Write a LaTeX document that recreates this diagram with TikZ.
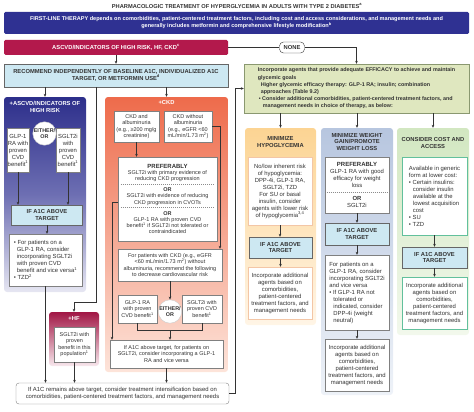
\documentclass[tikz,border=0pt]{standalone}
\usepackage{fontspec}
\setmainfont{Liberation Sans}
\usetikzlibrary{arrows.meta,positioning}

\definecolor{navy}{HTML}{2F3192}
\definecolor{crimson}{HTML}{B3194C}
\definecolor{paleblue}{HTML}{CDE8F2}
\definecolor{ink}{HTML}{333333}
\definecolor{olive}{HTML}{DFE7BF}
\definecolor{olivedark}{HTML}{8A9870}
\definecolor{mint}{HTML}{62C09C}
\definecolor{peach}{HTML}{F3C6A6}

\newcommand{\boxfont}{\fontsize{5.9}{7}\selectfont}
\newcommand{\ckdfont}{\fontsize{5.5}{6.2}\selectfont}
\newcommand{\headfont}{\fontsize{5.8}{6.8}\selectfont\bfseries}
\newcommand{\dashsep}[1]{\\[-0.5pt]\makebox[#1pt]{\color{black!45}\xleaders\hbox to 2pt{\hss\rule[2pt]{1pt}{0.35pt}\hss}\hfill}\\[-1pt]}

\tikzset{
  >={Stealth[length=3pt,width=2.6pt]},
  every node/.style={font=\boxfont, text=ink},
  conn/.style={draw=ink, line width=0.6pt},
  sz/.style 2 args={minimum width=#1, minimum height=#2},
  wbox/.style={draw=black!50, fill=white, align=center, inner sep=1pt},
  a1cbox/.style={draw=black!60, fill=paleblue, align=center, font=\headfont},
  panel/.style={rounded corners=3pt, inner sep=0pt},
  head/.style={font=\headfont, align=center},
  either/.style={circle, fill=white, draw=black!20, minimum size=23, inner sep=0pt, align=center, font=\fontsize{5.4}{5.8}\selectfont\bfseries},
}

\begin{document}
\begin{tikzpicture}[x=1pt,y=-1pt]
\useasboundingbox (0,0) rectangle (474,412);

% top
\node[font=\fontsize{5.7}{6}\selectfont\bfseries] (title) at (237,6) {PHARMACOLOGIC TREATMENT OF HYPERGLYCEMIA IN ADULTS WITH TYPE 2 DIABETES\textsuperscript{a}};
\node[sz={465}{22}, fill=navy, rounded corners=1.5pt, align=center, text=white, font=\fontsize{5.55}{7}\selectfont\bfseries] (firstline) at (236.5,23)
  {FIRST-LINE THERAPY depends on comorbidities, patient-centered treatment factors, including cost and access considerations, and management needs and\\generally includes metformin and comprehensive lifestyle modification\textsuperscript{b}};
\node[sz={224}{15}, fill=crimson, rounded corners=1.5pt, text=white, font=\headfont] (ascvd) at (116,47.5) {ASCVD/INDICATORS OF HIGH RISK, HF, CKD\textsuperscript{c}};
\node[sz={25}{11}, draw=ink, fill=white, rounded corners=4pt, inner sep=0pt, font=\headfont] (none) at (292,47.5) {NONE};
\node[sz={224}{23}, draw=black!60, fill=paleblue, align=center, font=\headfont] (recommend) at (116,75.5)
  {RECOMMEND INDEPENDENTLY OF BASELINE A1C, INDIVIDUALIZED A1C\\TARGET, OR METFORMIN USE\textsuperscript{d}};
\node[sz={225}{49}, draw=olivedark, fill=olive, align=left, font=\fontsize{5.4}{7.2}\selectfont\bfseries] (efficacy) at (356.5,88.5)
  {Incorporate agents that provide adequate EFFICACY to achieve and maintain\\glycemic goals\\
   \hspace*{3pt}Higher glycemic efficacy therapy: GLP-1 RA; insulin; combination\\
   \hspace*{3pt}approaches (Table 9.2)\\
   \hspace*{1pt}\textbullet\ Consider additional comorbidities, patient-centered treatment factors, and\\
   \hspace*{5pt}management needs in choice of therapy, as below:};

% panels
\node[panel, sz={82}{195}, top color=navy!95!black, bottom color=navy!12, middle color=navy!70] (ascvdpanel) at (45,194.5) {};
\node[panel, sz={123}{275}, top color={rgb,255:red,238;green,107;blue,75}, bottom color={rgb,255:red,253;green,228;blue,218}] (ckdpanel) at (166.5,234.5) {};
\node[panel, sz={50}{54}, top color=crimson!90!black, bottom color=crimson!10] (hfpanel) at (74,339) {};
\node[panel, sz={71}{197}, top color={rgb,255:red,252;green,212;blue,147}, bottom color={rgb,255:red,255;green,245;blue,230}] (hypopanel) at (280.5,226.5) {};
\node[panel, sz={72}{267}, top color={rgb,255:red,183;green,198;blue,223}, bottom color={rgb,255:red,238;green,242;blue,248}] (weightpanel) at (357,261.5) {};
\node[panel, sz={72}{207}, top color={rgb,255:red,210;green,231;blue,193}, bottom color={rgb,255:red,242;green,248;blue,236}] (costpanel) at (433,231.5) {};

% +ASCVD
\node[head, text=white] (ascvdtitle) at (45,107) {+ASCVD/INDICATORS OF\\HIGH RISK};
\node[wbox, sz={20}{44}] (ascvdglp) at (18,150) {GLP-1\\RA with\\proven\\CVD\\benefit\textsuperscript{1}};
\node[wbox, sz={24}{44}] (ascvdsglt) at (68,150) {SGLT2i\\with\\proven\\CVD\\benefit\textsuperscript{1}};
\node[either] (ascvdeither) at (44.5,133.5) {EITHER/\\OR};
\node[a1cbox, sz={71}{20}] (ascvda1c) at (47,215) {IF A1C ABOVE\\TARGET};
\node[wbox, sz={73}{52}, align=left] (ascvdnext) at (45.5,260)
  {\textbullet\ For patients on a\\\hspace*{3pt}GLP-1 RA, consider\\\hspace*{3pt}incorporating SGLT2i\\\hspace*{3pt}with proven CVD\\\hspace*{3pt}benefit and vice versa\textsuperscript{1}\\\textbullet\ TZD\textsuperscript{2}};

% +HF
\node[head, text=white] (hftitle) at (74,319) {+HF};
\node[wbox, sz={41}{35}, font=\ckdfont] (hfnext) at (74.5,344.5) {SGLT2i with\\proven\\benefit in this\\population\textsuperscript{1}};

% +CKD
\node[head, text=white] (ckdtitle) at (166.5,103) {+CKD};
\node[wbox, sz={45}{31}, font=\ckdfont] (ckdalb) at (136.5,126.5) {CKD and\\albuminuria\\(e.g., ≥200 mg/g\\creatinine)};
\node[wbox, sz={48}{31}, font=\ckdfont] (ckdnoalb) at (188,126.5) {CKD without\\albuminuria\\(e.g., eGFR <60\\mL/min/1.73 m\textsuperscript{2})};
\node[wbox, sz={99}{84}, font=\ckdfont] (ckdpref) at (167.5,199)
  {{\fontsize{6}{6.2}\selectfont\bfseries PREFERABLY}\\SGLT2i with primary evidence of\\reducing CKD progression\dashsep{95}\textbf{OR}\\SGLT2i with evidence of reducing\\CKD progression in CVOTs\dashsep{95}\textbf{OR}\\GLP-1 RA with proven CVD\\benefit\textsuperscript{1} if SGLT2i not tolerated or\\contraindicated};
\node[wbox, sz={104}{32}, font=\ckdfont] (ckdcvd) at (170,265) {For patients with CKD (e.g., eGFR\\<60 mL/min/1.73 m\textsuperscript{2}) without\\albuminuria, recommend the following\\to decrease cardiovascular risk};
\node[wbox, sz={39}{28}, font=\ckdfont] (ckdglp) at (137.5,309) {GLP-1 RA\\with proven\\CVD benefit\textsuperscript{1}};
\node[wbox, sz={40}{28}, font=\ckdfont] (ckdsglt) at (202,309) {SGLT2i with\\proven CVD\\benefit\textsuperscript{1}};
\node[either] (ckdeither) at (170,311.5) {EITHER/\\OR};
\node[wbox, sz={113}{28}, font=\ckdfont] (ckdlast) at (166.5,354) {If A1C above target, for patients on\\SGLT2i, consider incorporating a GLP-1\\RA and vice versa};

\node[wbox, sz={213}{21}, rounded corners=3pt] (final) at (122.5,393.5)
  {If A1C remains above target, consider treatment intensification based on\\comorbidities, patient-centered treatment factors, and management needs};

% minimize hypoglycemia
\node[head] (hypotitle) at (280.5,142) {MINIMIZE\\HYPOGLYCEMIA};
\node[wbox, sz={64}{68}, draw=peach] (hypofirst) at (280,191)
  {No/low inherent risk\\of hypoglycemia:\\DPP-4i, GLP-1 RA,\\SGLT2i, TZD\\For SU or basal\\insulin, consider\\agents with lower risk\\of hypoglycemia\textsuperscript{3,4}};
\node[a1cbox, sz={63}{21}] (hypoa1c) at (280.5,247.5) {IF A1C ABOVE\\TARGET};
\node[wbox, sz={64}{52}, draw=peach] (hypolast) at (280,293)
  {Incorporate additional\\agents based on\\comorbidities,\\patient-centered\\treatment factors, and\\management needs};

% minimize weight gain
\node[head] (weighttitle) at (357,142) {MINIMIZE WEIGHT\\GAIN/PROMOTE\\WEIGHT LOSS};
\node[wbox, sz={64}{56}] (weightpref) at (357,185)
  {{\fontsize{6}{7}\selectfont\bfseries PREFERABLY}\\GLP-1 RA with good\\efficacy for weight\\loss\dashsep{62}\textbf{OR}\\SGLT2i};
\node[a1cbox, sz={64}{22}] (weighta1c) at (357,234) {IF A1C ABOVE\\TARGET};
\node[wbox, sz={64}{75}, align=left] (weightnext) at (357,292.5)
  {For patients on a\\GLP-1 RA, consider\\incorporating SGLT2i\\and vice versa\\\textbullet\ If GLP-1 RA not\\\hspace*{4pt}tolerated or\\\hspace*{4pt}indicated, consider\\\hspace*{4pt}DPP-4i (weight\\\hspace*{4pt}neutral)};
\node[wbox, sz={64}{52}] (weightlast) at (357,365)
  {Incorporate additional\\agents based on\\comorbidities,\\patient-centered\\treatment factors, and\\management needs};

% cost and access
\node[head] (costtitle) at (433,143) {CONSIDER COST AND\\ACCESS};
\node[wbox, sz={65}{78}, draw=mint, align=left] (costfirst) at (434.5,196)
  {Available in generic\\form at lower cost:\\\textbullet\ Certain insulins:\\\hspace*{4pt}consider insulin\\\hspace*{4pt}available at the\\\hspace*{4pt}lowest acquisition\\\hspace*{4pt}cost\\\textbullet\ SU\\\textbullet\ TZD};
\node[a1cbox, sz={65}{21}] (costa1c) at (434.5,257.5) {IF A1C ABOVE\\TARGET};
\node[wbox, sz={65}{52}, draw=mint] (costlast) at (434.5,303)
  {Incorporate additional\\agents based on\\comorbidities,\\patient-centered\\treatment factors, and\\management needs};

% connectors
\draw[conn] (ascvd.east) -- (none.west);
\draw[conn,->] (none.east) -| (efficacy.north);
\draw[conn,->] (ascvd.south) -- (recommend.north);
\draw[conn,->] (recommend.south -| ascvdpanel.north) -- (ascvdpanel.north);
\draw[conn,->] (recommend.south -| ckdpanel.north) -- (ckdpanel.north);
\coordinate (hfturn) at (96,302);
\draw[conn,->] (recommend.south -| hfturn) -- (hfturn) -| (hfpanel.north);

\draw[conn,->] (ascvdglp.south) -- (ascvdglp.south |- ascvda1c.north);
\draw[conn,->] (ascvdsglt.south) -- (ascvdsglt.south |- ascvda1c.north);
\draw[conn,->] (ascvda1c.south) -- (ascvda1c.south |- ascvdnext.north);
\draw[conn,->] (ascvdnext.south) -- (ascvdnext.south |- final.north);
\draw[conn,->] (hfnext.south) -- (hfnext.south |- final.north);

\draw[conn,->] (ckdalb.south) -- (ckdalb.south |- ckdpref.north);
\coordinate (ckdright) at (220,0);
\draw[conn,->] (ckdnoalb.east) -| (ckdright |- ckdcvd.north);
\coordinate (ckdleft) at (112,202);
\draw[conn,->] (ckdpref.west |- ckdleft) -- (ckdleft) -- (ckdleft |- ckdlast.north);
\draw[conn,->] (ckdcvd.south) -- (ckdeither.north);
\draw[conn] (ckdglp.south) -- ++(0,7) -| (ckdsglt.south);
\coordinate (ckdjoin) at (170,330);
\draw[conn,->] (ckdjoin) -- (ckdjoin |- ckdlast.north);
\draw[conn,->] (ckdlast.south) -- (ckdlast.south |- final.north);

\coordinate (loopx) at (235,0);
\draw[conn,->] (final.east) -- (final.east -| loopx) |- (efficacy.west);

\draw[conn,->] (efficacy.south -| hypopanel.north) -- (hypopanel.north);
\draw[conn,->] (efficacy.south -| weightpanel.north) -- (weightpanel.north);
\draw[conn,->] (efficacy.south -| costpanel.north) -- (costpanel.north);
\draw[conn,->] (hypofirst.south) -- (hypofirst.south |- hypoa1c.north);
\draw[conn,->] (hypoa1c.south) -- (hypoa1c.south |- hypolast.north);
\draw[conn,->] (weightpref.south) -- (weighta1c.north);
\draw[conn,->] (weighta1c.south) -- (weightnext.north);
\draw[conn,->] (weightnext.south) -- (weightlast.north);
\draw[conn,->] (costfirst.south) -- (costa1c.north);
\draw[conn,->] (costa1c.south) -- (costlast.north);
\end{tikzpicture}
\end{document}
